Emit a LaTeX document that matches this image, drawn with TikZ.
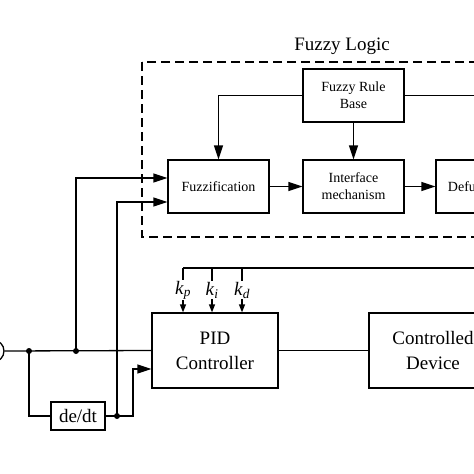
\documentclass[tikz,border=0pt]{standalone}
\usepackage{fontspec}
\setmainfont{Liberation Serif}
\usetikzlibrary{arrows.meta, calc}

\begin{document}
\begin{tikzpicture}[x=1pt, y=-1pt, line width=1.3pt,
    block/.style={draw, align=center, inner sep=2pt},
    small/.style={font=\fontsize{14}{17}\selectfont},
    big/.style={font=\fontsize{19}{25}\selectfont},
    arr/.style={-{Triangle[length=14pt, width=9pt]}},
    karr/.style={-{Triangle[length=8pt, width=6pt]}},
    klabel/.style={fill=white, inner sep=1pt, font=\fontsize{19}{19}\selectfont}]
    \useasboundingbox (0,0) rectangle (474,474);
    \clip (0,0) rectangle (474,474);

    \draw[dash pattern=on 9pt off 5pt] (142,62) rectangle (520,237);
    \node[big] (logic) at (342,46) {Fuzzy Logic};

    \node[block, small, minimum width=101pt, minimum height=53pt] (rule) at (353.5,95.5) {Fuzzy Rule\\Base};
    \node[block, small, minimum width=101pt, minimum height=53pt] (fuzz) at (218.5,186.5) {Fuzzification};
    \node[block, small, minimum width=101pt, minimum height=53pt] (infer) at (353.5,186.5) {Interface\\mechanism};
    \node[block, small, minimum width=111pt, minimum height=53pt] (defuzz) at (491.5,186.5) {Defuzzification};

    \node[block, big, minimum width=126pt, minimum height=75pt] (pid) at (215,350.5) {PID\\Controller};
    \node[block, big, minimum width=128pt, minimum height=75pt] (plant) at (433,350.5) {Controlled\\Device};
    \node[block, big, minimum width=54pt, minimum height=28pt, inner sep=0pt] (deriv) at (78,416) {de/dt};
    \node[draw, circle, minimum size=22pt] (sum) at (-7,351) {};

    \coordinate (d1) at (29,351);
    \coordinate (d2) at (76,351);
    \coordinate (d3) at (117,416);
    \coordinate (bend) at (133,369);
    \coordinate (rout) at (500,95.5);
    \coordinate (k) at (183,268);
    \coordinate (kbus) at (500,268);

    \draw (sum.east) -- (pid.west);
    \draw (d1) |- (deriv.west);
    \draw[arr] (deriv.east) -| (bend) -- (bend -| pid.west);
    \draw[arr] (d2) |- ([yshift=8.5pt]fuzz.west);
    \draw[arr] (d3) |- ([yshift=-15.5pt]fuzz.west);

    \draw[arr] (rule.west) -| (fuzz.north);
    \draw (rule.east) -- (rout);
    \draw[arr] (rule.south) -- (infer.north);
    \draw[arr] (fuzz.east) -- (infer.west);
    \draw[arr] (infer.east) -- (defuzz.west);
    \draw (pid.east) -- (plant.west);

    \draw (k) -- (kbus);
    \foreach \x/\s in {0/p, 29/i, 59/d} {
        \coordinate (t) at ($(k)+(\x,0)$);
        \draw[karr] (t) -- node[klabel] {\textit{k}\textsubscript{\textit{\s}}} (t |- pid.north);
    }

    \foreach \c in {d1, d2, d3}
        \fill (\c) circle (3pt);
\end{tikzpicture}
\end{document}
